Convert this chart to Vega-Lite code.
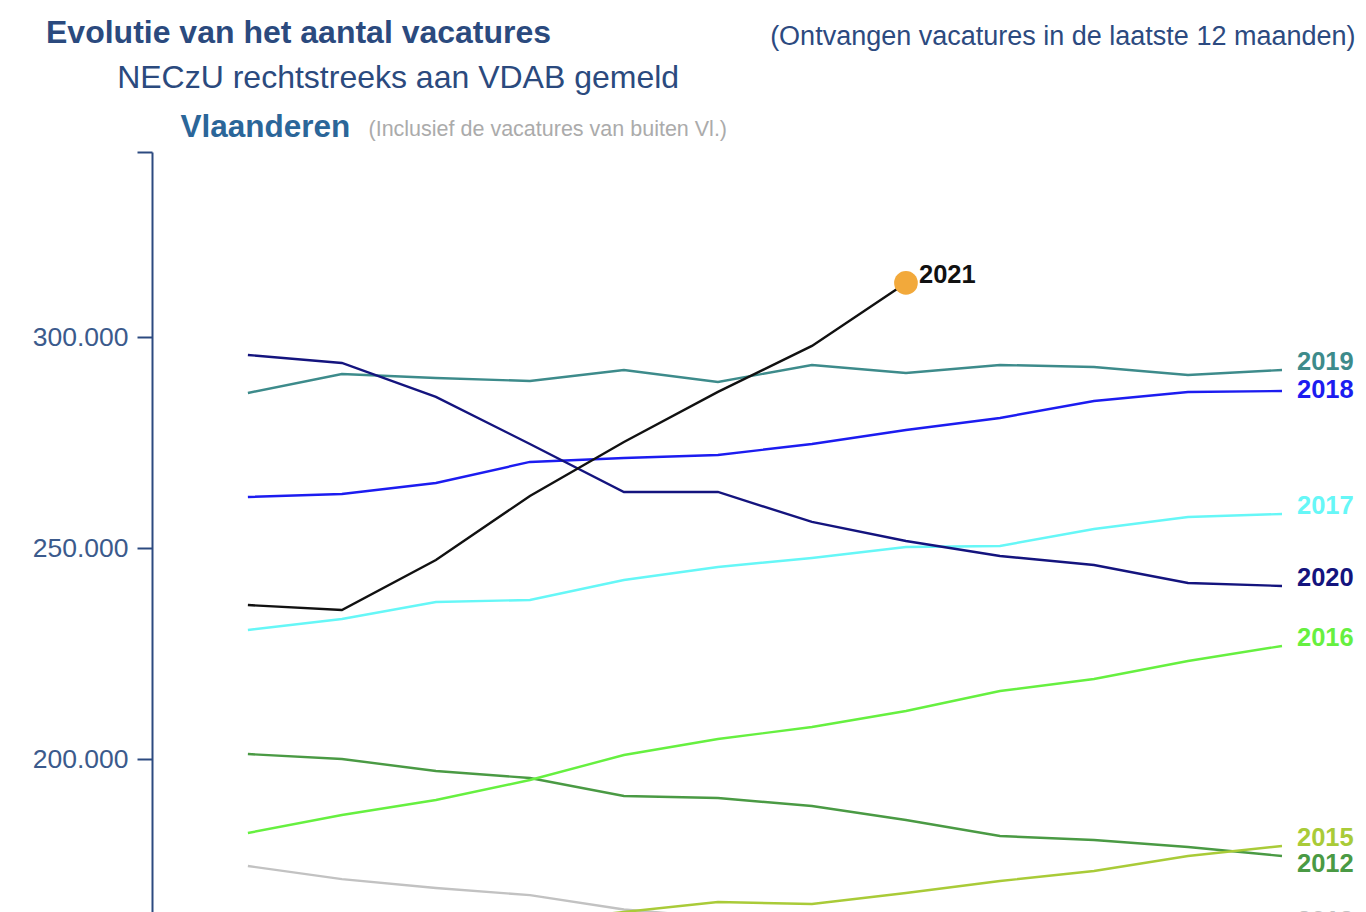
{
  "$schema": "https://vega.github.io/schema/vega-lite/v6.json",
  "autosize": {"type": "none"},
  "padding": {"left": 152, "top": 152, "right": 37, "bottom": 0},
  "width": 1177,
  "height": 760,
  "background": "white",
  "config": {"view": {"stroke": null}, "font": "Liberation Sans"},
  "title": {
    "text": "Evolutie van het aantal vacatures",
    "subtitle": "\u200b\u00a0\u00a0\u00a0\u00a0\u00a0\u00a0\u00a0\u00a0NECzU rechtstreeks aan VDAB gemeld",
    "anchor": "start",
    "frame": "group",
    "dx": -106,
    "dy": 73,
    "offset": 0,
    "font": "Liberation Sans",
    "fontSize": 32,
    "fontWeight": "bold",
    "color": "#2b4a7e",
    "subtitleFont": "Liberation Sans",
    "subtitleFontSize": 32,
    "subtitleFontWeight": "normal",
    "subtitleColor": "#2b4a7e",
    "subtitlePadding": 13
  },
  "data": {
    "values": [
      {"year": "2012", "month": 1, "value": 201240}, {"year": "2012", "month": 2, "value": 200060}, {"year": "2012", "month": 3, "value": 197210}, {"year": "2012", "month": 4, "value": 195550}, {"year": "2012", "month": 5, "value": 191290}, {"year": "2012", "month": 6, "value": 190810}, {"year": "2012", "month": 7, "value": 188920}, {"year": "2012", "month": 8, "value": 185600}, {"year": "2012", "month": 9, "value": 181810}, {"year": "2012", "month": 10, "value": 180860}, {"year": "2012", "month": 11, "value": 179200}, {"year": "2012", "month": 12, "value": 177070},
      {"year": "2013", "month": 1, "value": 174700}, {"year": "2013", "month": 2, "value": 171600}, {"year": "2013", "month": 3, "value": 169500}, {"year": "2013", "month": 4, "value": 167800}, {"year": "2013", "month": 5, "value": 164400}, {"year": "2013", "month": 6, "value": 162500}, {"year": "2013", "month": 7, "value": 161500}, {"year": "2013", "month": 8, "value": 161000}, {"year": "2013", "month": 9, "value": 160500}, {"year": "2013", "month": 10, "value": 160200}, {"year": "2013", "month": 11, "value": 160000}, {"year": "2013", "month": 12, "value": 159800},
      {"year": "2015", "month": 1, "value": 155000}, {"year": "2015", "month": 2, "value": 157500}, {"year": "2015", "month": 3, "value": 159500}, {"year": "2015", "month": 4, "value": 161500}, {"year": "2015", "month": 5, "value": 163800}, {"year": "2015", "month": 6, "value": 166170}, {"year": "2015", "month": 7, "value": 165690}, {"year": "2015", "month": 8, "value": 168300}, {"year": "2015", "month": 9, "value": 171140}, {"year": "2015", "month": 10, "value": 173510}, {"year": "2015", "month": 11, "value": 177070}, {"year": "2015", "month": 12, "value": 179440},
      {"year": "2016", "month": 1, "value": 182520}, {"year": "2016", "month": 2, "value": 186790}, {"year": "2016", "month": 3, "value": 190340}, {"year": "2016", "month": 4, "value": 195080}, {"year": "2016", "month": 5, "value": 201000}, {"year": "2016", "month": 6, "value": 204800}, {"year": "2016", "month": 7, "value": 207640}, {"year": "2016", "month": 8, "value": 211430}, {"year": "2016", "month": 9, "value": 216170}, {"year": "2016", "month": 10, "value": 219020}, {"year": "2016", "month": 11, "value": 223280}, {"year": "2016", "month": 12, "value": 226840},
      {"year": "2017", "month": 1, "value": 230630}, {"year": "2017", "month": 2, "value": 233240}, {"year": "2017", "month": 3, "value": 237270}, {"year": "2017", "month": 4, "value": 237740}, {"year": "2017", "month": 5, "value": 242480}, {"year": "2017", "month": 6, "value": 245560}, {"year": "2017", "month": 7, "value": 247690}, {"year": "2017", "month": 8, "value": 250300}, {"year": "2017", "month": 9, "value": 250540}, {"year": "2017", "month": 10, "value": 254570}, {"year": "2017", "month": 11, "value": 257410}, {"year": "2017", "month": 12, "value": 258120},
      {"year": "2018", "month": 1, "value": 262150}, {"year": "2018", "month": 2, "value": 262860}, {"year": "2018", "month": 3, "value": 265470}, {"year": "2018", "month": 4, "value": 270450}, {"year": "2018", "month": 5, "value": 271390}, {"year": "2018", "month": 6, "value": 272100}, {"year": "2018", "month": 7, "value": 274710}, {"year": "2018", "month": 8, "value": 278030}, {"year": "2018", "month": 9, "value": 280870}, {"year": "2018", "month": 10, "value": 284900}, {"year": "2018", "month": 11, "value": 287040}, {"year": "2018", "month": 12, "value": 287270},
      {"year": "2019", "month": 1, "value": 286800}, {"year": "2019", "month": 2, "value": 291300}, {"year": "2019", "month": 3, "value": 290350}, {"year": "2019", "month": 4, "value": 289640}, {"year": "2019", "month": 5, "value": 292250}, {"year": "2019", "month": 6, "value": 289400}, {"year": "2019", "month": 7, "value": 293430}, {"year": "2019", "month": 8, "value": 291540}, {"year": "2019", "month": 9, "value": 293430}, {"year": "2019", "month": 10, "value": 292960}, {"year": "2019", "month": 11, "value": 291070}, {"year": "2019", "month": 12, "value": 292250},
      {"year": "2020", "month": 1, "value": 295800}, {"year": "2020", "month": 2, "value": 293910}, {"year": "2020", "month": 3, "value": 285850}, {"year": "2020", "month": 4, "value": 274710}, {"year": "2020", "month": 5, "value": 263340}, {"year": "2020", "month": 6, "value": 263340}, {"year": "2020", "month": 7, "value": 256230}, {"year": "2020", "month": 8, "value": 251720}, {"year": "2020", "month": 9, "value": 248170}, {"year": "2020", "month": 10, "value": 246040}, {"year": "2020", "month": 11, "value": 241770}, {"year": "2020", "month": 12, "value": 241060},
      {"year": "2021", "month": 1, "value": 236550}, {"year": "2021", "month": 2, "value": 235370}, {"year": "2021", "month": 3, "value": 247220}, {"year": "2021", "month": 4, "value": 262390}, {"year": "2021", "month": 5, "value": 275190}, {"year": "2021", "month": 6, "value": 287040}, {"year": "2021", "month": 7, "value": 297940}, {"year": "2021", "month": 8, "value": 312870}
    ]
  },
  "encoding": {
    "x": {"field": "month", "type": "quantitative", "scale": {"domain": [-0.02, 12.5], "nice": false, "zero": false}, "axis": null},
    "y": {
      "field": "value",
      "type": "quantitative",
      "scale": {"domain": [163800, 343900], "nice": false, "zero": false},
      "axis": {
        "orient": "left",
        "values": [200000, 250000, 300000, 343900],
        "labelExpr": "datum.value > 340000 ? '' : replace(format(datum.value, ','), ',', '.')",
        "grid": false,
        "domainColor": "#2c4a80",
        "domainWidth": 2,
        "tickColor": "#2c4a80",
        "tickWidth": 2,
        "tickSize": 15,
        "labelFont": "Liberation Sans",
        "labelFontSize": 26.5,
        "labelColor": "#3b5a8c",
        "labelPadding": 9,
        "labelOverlap": false,
        "labelFlush": false,
        "title": "Vlaanderen",
        "titleFont": "Liberation Sans",
        "titleFontSize": 31.5,
        "titleFontWeight": "bold",
        "titleColor": "#2b6699",
        "titleAngle": 0,
        "titleAlign": "left",
        "titleBaseline": "alphabetic",
        "titleX": 28,
        "titleY": -16
      }
    }
  },
  "resolve": {"axis": {"x": "independent"}},
  "layer": [
    {
      "mark": {"type": "line", "strokeWidth": 2.4},
      "encoding": {
        "x": {
          "field": "month", "type": "quantitative",
          "scale": {"domain": [-0.02, 12.5], "nice": false, "zero": false},
          "axis": {
            "orient": "top", "domain": false, "ticks": false, "labels": false, "grid": false,
            "title": "(Ontvangen vacatures in de laatste 12 maanden)",
            "titleFont": "Liberation Sans", "titleFontSize": 27, "titleFontWeight": "normal",
            "titleColor": "#2c4a80", "titleX": 1203, "titleY": -108,
            "titleAlign": "right", "titleAnchor": "end", "titleBaseline": "alphabetic"
          }
        },
        "color": {
          "field": "year", "type": "nominal", "legend": null,
          "scale": {
            "domain": ["2012", "2013", "2015", "2016", "2017", "2018", "2019", "2020", "2021"],
            "range": ["#4a9a44", "#c2c2c2", "#a9cb38", "#66f040", "#66f7f7", "#1c1cf0", "#3d8b8b", "#14147e", "#111111"]
          }
        },
        "detail": {"field": "year"}
      }
    },
    {
      "transform": [{"filter": "datum.month == 12 && datum.year != '2012' && datum.year != '2018'"}],
      "mark": {"type": "text", "align": "left", "baseline": "alphabetic", "dx": 15, "dy": 0, "font": "Liberation Sans", "fontSize": 25.5, "fontWeight": "bold"},
      "encoding": {
        "x": {
          "field": "month", "type": "quantitative",
          "scale": {"domain": [-0.02, 12.5], "nice": false, "zero": false},
          "axis": {
            "orient": "bottom", "domain": false, "ticks": false, "labels": false, "grid": false,
            "title": "(Inclusief de vacatures van buiten Vl.)",
            "titleFont": "Liberation Sans", "titleFontSize": 21.5, "titleFontWeight": "normal",
            "titleColor": "#ababab", "titleX": 216, "titleY": -777,
            "titleAlign": "left", "titleAnchor": "start", "titleBaseline": "alphabetic"
          }
        },
        "text": {"field": "year"},
        "color": {"field": "year", "type": "nominal", "legend": null}
      }
    },
    {
      "transform": [{"filter": "datum.month == 12 && datum.year == '2018'"}],
      "mark": {"type": "text", "align": "left", "baseline": "alphabetic", "dx": 15, "dy": 7, "font": "Liberation Sans", "fontSize": 25.5, "fontWeight": "bold"},
      "encoding": {
        "text": {"field": "year"},
        "color": {"field": "year", "type": "nominal", "legend": null}
      }
    },
    {
      "transform": [{"filter": "datum.month == 12 && datum.year == '2012'"}],
      "mark": {"type": "text", "align": "left", "baseline": "alphabetic", "dx": 15, "dy": 16, "font": "Liberation Sans", "fontSize": 25.5, "fontWeight": "bold"},
      "encoding": {
        "text": {"field": "year"},
        "color": {"field": "year", "type": "nominal", "legend": null}
      }
    },
    {
      "transform": [{"filter": "datum.month == 8 && datum.year == '2021'"}],
      "mark": {"type": "point", "filled": true, "size": 560, "color": "#f2a93b", "opacity": 1}
    },
    {
      "transform": [{"filter": "datum.month == 8 && datum.year == '2021'"}],
      "mark": {"type": "text", "align": "left", "baseline": "alphabetic", "dx": 13, "dy": 0, "font": "Liberation Sans", "fontSize": 25.5, "fontWeight": "bold"},
      "encoding": {
        "text": {"field": "year"},
        "color": {"field": "year", "type": "nominal", "legend": null}
      }
    }
  ]
}
